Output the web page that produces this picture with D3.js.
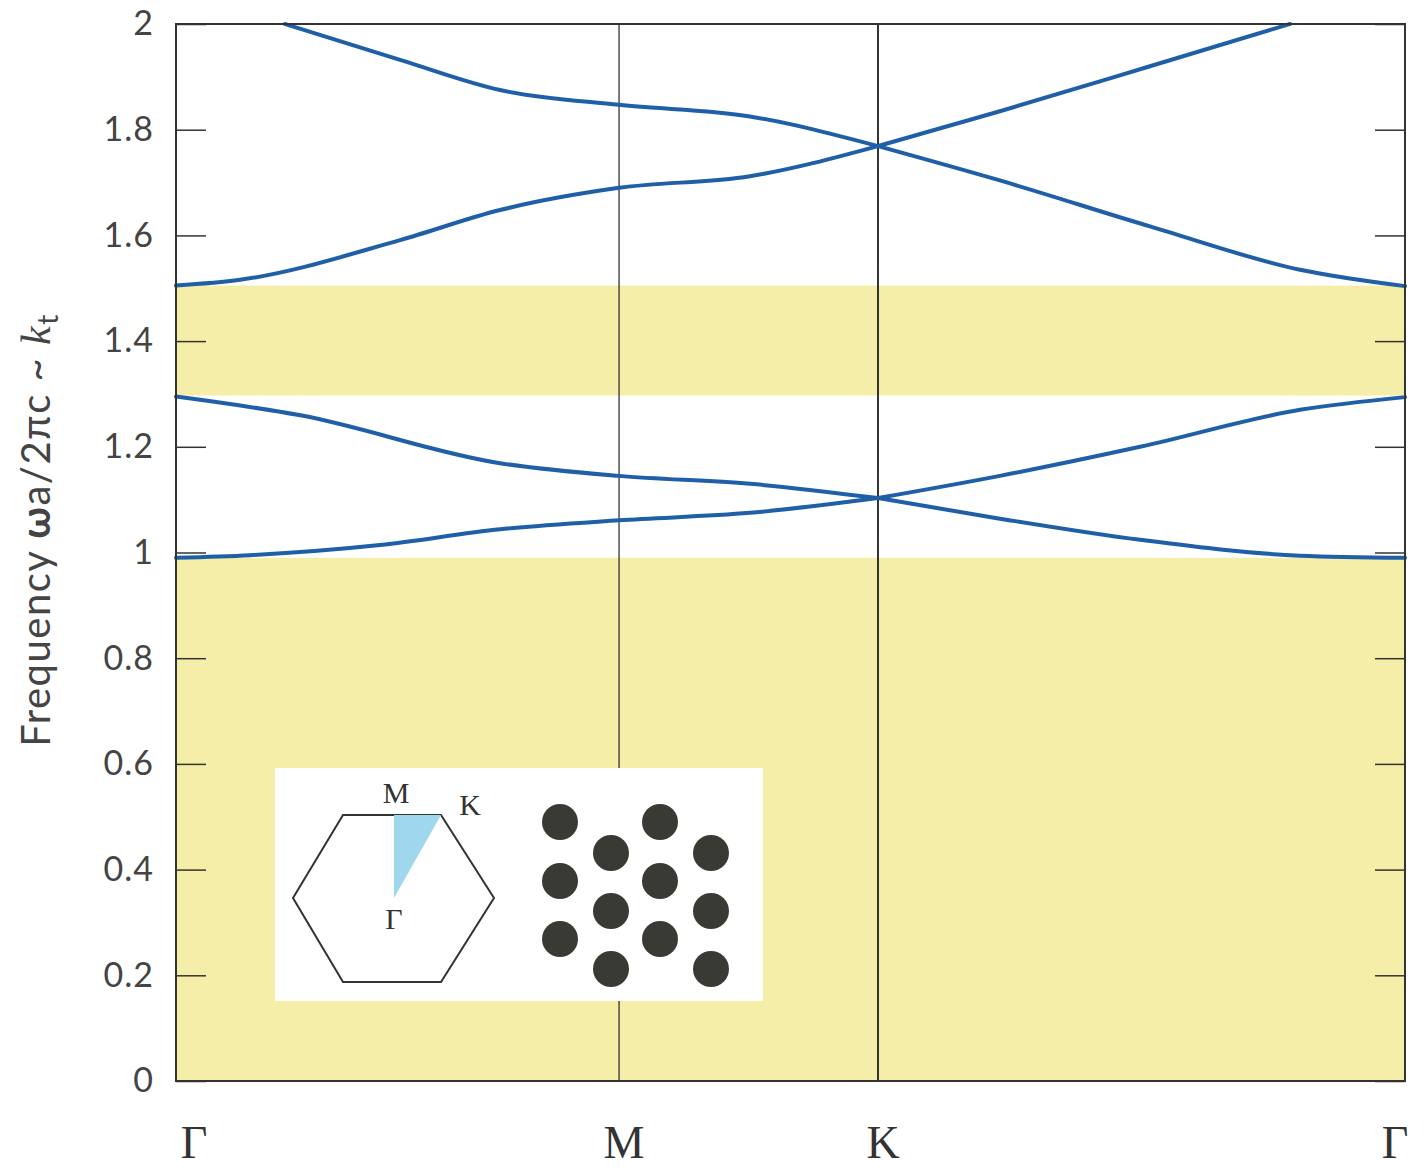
<!DOCTYPE html>
<html><head><meta charset="utf-8">
<script src="https://cdn.jsdelivr.net/npm/d3@7"></script>
<style>body{margin:0;background:#fff}</style></head>
<body><svg id="c" width="1428" height="1173"></svg>
<script>
const kLabels = ["Γ","M","K","Γ"];
const kPos = [0, 0.3605, 0.5712, 1];
const yTicks = [0,0.2,0.4,0.6,0.8,1,1.2,1.4,1.6,1.8,2];
const gaps = [[0,0.99],[1.297,1.505]];
const bandK = [
 [0,0.0602,0.1660,0.2636,0.3605,0.4670,0.5712,0.6704,0.7844,0.9146,1],
 [0,0.1001,0.2636,0.3605,0.4670,0.5712,0.6704,0.7844,0.9146,1],
 [0,0.0521,0.1823,0.2636,0.3605,0.4670,0.5712,0.6704,0.7925,0.9146,1],
 [0.0887,0.1823,0.2636,0.3605,0.4670,0.5712,0.6704,0.7925,0.9064]
];
const bandW = [
 [0.99,0.995,1.014,1.044,1.061,1.075,1.103,1.064,1.024,0.994,0.99],
 [1.295,1.26,1.169,1.145,1.13,1.103,1.145,1.200,1.270,1.294],
 [1.505,1.516,1.591,1.648,1.69,1.712,1.769,1.704,1.617,1.535,1.504],
 [2.0,1.932,1.875,1.847,1.825,1.769,1.835,1.920,2.0]
];
const svg = d3.select("#c");
const L=176,R=1405,T=24,B=1081;
const x = d3.scaleLinear().domain([0,1]).range([L,R]);
const y = d3.scaleLinear().domain([0,2]).range([B,T]);
gaps.forEach(g=>svg.append("rect").attr("x",L).attr("width",R-L).attr("y",y(g[1])).attr("height",y(g[0])-y(g[1])).attr("fill","#f5eea8"));
svg.append("line").attr("x1",x(kPos[1])).attr("x2",x(kPos[1])).attr("y1",T).attr("y2",B).attr("stroke","#333").attr("stroke-width",1.3);
svg.append("line").attr("x1",x(kPos[2])).attr("x2",x(kPos[2])).attr("y1",T).attr("y2",B).attr("stroke","#333").attr("stroke-width",2);
// inset
const ins = svg.append("g");
ins.append("rect").attr("x",275).attr("y",768).attr("width",488).attr("height",233).attr("fill","#fff");
ins.append("polygon").attr("points","343,815 441,815 494,898 441,982 343,982 293,898").attr("fill","none").attr("stroke","#333").attr("stroke-width",2);
ins.append("polygon").attr("points","394,898 394,815 441,815").attr("fill","#9fd8ee");
ins.append("text").attr("x",396).attr("y",803).attr("text-anchor","middle").attr("font-family","Liberation Serif").attr("font-size",30).attr("fill","#333").text("M");
ins.append("text").attr("x",470).attr("y",815).attr("text-anchor","middle").attr("font-family","Liberation Serif").attr("font-size",30).attr("fill","#333").text("K");
ins.append("text").attr("x",394).attr("y",929).attr("text-anchor","middle").attr("font-family","Liberation Serif").attr("font-size",30).attr("fill","#333").text("Γ");
const dots=[[560,822],[660,822],[611,853],[711,853],[560,881],[660,881],[611,911],[711,911],[560,939],[660,939],[611,969],[711,969]];
dots.forEach(d=>ins.append("circle").attr("cx",d[0]).attr("cy",d[1]).attr("r",18).attr("fill","#3a3a35"));
// bands, split at K
const line = d3.line().x(d=>x(d[0])).y(d=>y(d[1])).curve(d3.curveMonotoneX);
bandK.forEach((ks,i)=>{
  const pts = ks.map((k,j)=>[k,bandW[i][j]]);
  const left = pts.filter(p=>p[0]<=kPos[2]), right = pts.filter(p=>p[0]>=kPos[2]);
  [left,right].forEach(seg=>svg.append("path").attr("d",line(seg)).attr("fill","none").attr("stroke","#1f5fa8").attr("stroke-width",4).attr("stroke-linecap","round"));
});
// frame
svg.append("rect").attr("x",L).attr("y",T).attr("width",R-L).attr("height",B-T).attr("fill","none").attr("stroke","#333").attr("stroke-width",2);
const ya = svg.append("g").attr("transform",`translate(${L},0)`).call(d3.axisLeft(y).tickValues(yTicks).tickFormat(d3.format("")).tickSizeInner(-30).tickSizeOuter(0));
ya.select(".domain").remove();
ya.selectAll("line").attr("stroke","#333").attr("stroke-width",1.5);
ya.selectAll("text").attr("x",-22).attr("font-family","Lato").attr("font-size",34).attr("fill","#444").attr("letter-spacing",1);
const ya2 = svg.append("g").attr("transform",`translate(${R},0)`).call(d3.axisRight(y).tickValues(yTicks).tickFormat("").tickSizeInner(-30).tickSizeOuter(0));
ya2.select(".domain").remove(); ya2.selectAll("line").attr("stroke","#333").attr("stroke-width",1.5);
kPos.forEach((k,i)=>svg.append("text").attr("x",x(k)+(i==0?18:i==3?-10:5)).attr("y",1158).attr("text-anchor","middle").attr("font-family","Liberation Serif").attr("font-size",46).attr("fill","#333").text(kLabels[i]));
const yl = svg.append("text").attr("transform","translate(50,530) rotate(-90)").attr("text-anchor","middle").attr("font-family","Lato").attr("font-size",40).attr("fill","#444").attr("letter-spacing",1.5);
yl.append("tspan").text("Frequency  ");
yl.append("tspan").attr("font-weight","bold").text("ω");
yl.append("tspan").text("a/2πc   ~ ");
yl.append("tspan").attr("font-family","Liberation Serif").attr("font-style","italic").attr("font-size",42).text("k");
yl.append("tspan").attr("font-size",28).attr("dy",8).text("t");
</script></body></html>
